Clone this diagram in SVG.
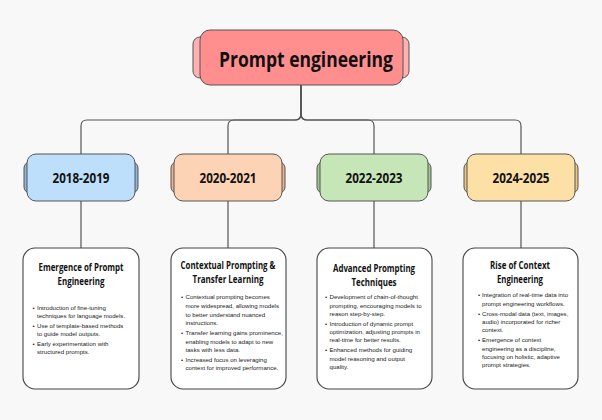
<svg xmlns="http://www.w3.org/2000/svg" width="602" height="420" viewBox="0 0 602 420">
<style>
.bg{fill:#f8f8f8}
.ln{fill:none;stroke:#555;stroke-width:1.2}
.fr{stroke:#555;stroke-width:1}
.card{fill:#fff;stroke:#444;stroke-width:1.1}
.h{font-family:"Open Sans","Liberation Sans",sans-serif;font-weight:700;fill:#111;text-anchor:middle}
.b{font-family:"Liberation Sans",Arial,sans-serif;font-size:6.1px;fill:#222}
</style>
<rect class="bg" x="0" y="0" width="602" height="420"/>
<g id="connectors">
<path class="ln" d="M301 85 V114 Q301 120 295 120 H87 Q81 120 81 126 V154"/>
<path class="ln" d="M301 85 V114 Q301 120 295 120 H234 Q228 120 228 126 V154"/>
<path class="ln" d="M301 85 V114 Q301 120 307 120 H368 Q374 120 374 126 V154"/>
<path class="ln" d="M301 85 V114 Q301 120 307 120 H515 Q521 120 521 126 V154"/>
<path class="ln" d="M81 201 V248 M228 201 V248 M374 201 V248 M521 201 V248"/>
</g>
<g id="title">
<rect class="fr" x="193" y="37" width="216" height="41" rx="7" fill="#ffb0b0"/>
<rect class="fr" x="200" y="30" width="203" height="55" rx="10" fill="#ff8f8f"/>
<text class="h" x="306" y="67" font-size="21" textLength="174" lengthAdjust="spacingAndGlyphs">Prompt engineering</text>
</g>
<g id="y2018">
<rect class="fr" x="24" y="162" width="114" height="31" rx="6" fill="#8fb6dc"/>
<rect class="fr" x="27" y="154" width="108" height="47" rx="9" fill="#bddffc"/>
<text class="h" x="81" y="183" font-size="15" textLength="57" lengthAdjust="spacingAndGlyphs">2018-2019</text>
</g>
<g id="y2020">
<rect class="fr" x="171" y="162" width="114" height="31" rx="6" fill="#eab390"/>
<rect class="fr" x="174" y="154" width="108" height="47" rx="9" fill="#fdd3b6"/>
<text class="h" x="228" y="183" font-size="15" textLength="57" lengthAdjust="spacingAndGlyphs">2020-2021</text>
</g>
<g id="y2022">
<rect class="fr" x="317" y="162" width="114" height="31" rx="6" fill="#9fc890"/>
<rect class="fr" x="320" y="154" width="108" height="47" rx="9" fill="#c6e6b7"/>
<text class="h" x="374" y="183" font-size="15" textLength="57" lengthAdjust="spacingAndGlyphs">2022-2023</text>
</g>
<g id="y2024">
<rect class="fr" x="464" y="162" width="114" height="31" rx="6" fill="#ecc680"/>
<rect class="fr" x="467" y="154" width="108" height="47" rx="9" fill="#fde0a6"/>
<text class="h" x="521" y="183" font-size="15" textLength="57" lengthAdjust="spacingAndGlyphs">2024-2025</text>
</g>
<g id="card1">
<rect class="card" x="23" y="248" width="116" height="141" rx="12"/>
<text class="h" x="81" y="270.5" font-size="11" textLength="85" lengthAdjust="spacingAndGlyphs">Emergence of Prompt</text>
<text class="h" x="81" y="284.5" font-size="11" textLength="47" lengthAdjust="spacingAndGlyphs">Engineering</text>
<text class="b"><tspan x="32.5" y="310">•</tspan><tspan x="37" y="310">Introduction of fine-tuning</tspan><tspan x="37" y="318">techniques for language models.</tspan><tspan x="32.5" y="328">•</tspan><tspan x="37" y="328">Use of template-based methods</tspan><tspan x="37" y="336">to guide model outputs.</tspan><tspan x="32.5" y="346">•</tspan><tspan x="37" y="346">Early experimentation with</tspan><tspan x="37" y="354">structured prompts.</tspan></text>
</g>
<g id="card2">
<rect class="card" x="171" y="248" width="115" height="141" rx="12"/>
<text class="h" x="228" y="269" font-size="11" textLength="95" lengthAdjust="spacingAndGlyphs">Contextual Prompting &amp;</text>
<text class="h" x="228" y="283" font-size="11" textLength="71" lengthAdjust="spacingAndGlyphs">Transfer Learning</text>
<text class="b"><tspan x="181" y="299">•</tspan><tspan x="185.5" y="299">Contextual prompting becomes</tspan><tspan x="185.5" y="308">more widespread, allowing models</tspan><tspan x="185.5" y="316.5">to better understand nuanced</tspan><tspan x="185.5" y="325">instructions.</tspan><tspan x="181" y="335">•</tspan><tspan x="185.5" y="335">Transfer learning gains prominence,</tspan><tspan x="185.5" y="343.5">enabling models to adapt to new</tspan><tspan x="185.5" y="352">tasks with less data.</tspan><tspan x="181" y="361.5">•</tspan><tspan x="185.5" y="361.5">Increased focus on leveraging</tspan><tspan x="185.5" y="370">context for improved performance.</tspan></text>
</g>
<g id="card3">
<rect class="card" x="317" y="248" width="115" height="141" rx="12"/>
<text class="h" x="374" y="272" font-size="11" textLength="82" lengthAdjust="spacingAndGlyphs">Advanced Prompting</text>
<text class="h" x="374" y="286" font-size="11" textLength="45" lengthAdjust="spacingAndGlyphs">Techniques</text>
<text class="b"><tspan x="325" y="299">•</tspan><tspan x="329.5" y="299">Development of chain-of-thought</tspan><tspan x="329.5" y="308">prompting, encouraging models to</tspan><tspan x="329.5" y="316">reason step-by-step.</tspan><tspan x="325" y="325.5">•</tspan><tspan x="329.5" y="325.5">Introduction of dynamic prompt</tspan><tspan x="329.5" y="334">optimization, adjusting prompts in</tspan><tspan x="329.5" y="342">real-time for better results.</tspan><tspan x="325" y="352">•</tspan><tspan x="329.5" y="352">Enhanced methods for guiding</tspan><tspan x="329.5" y="360.5">model reasoning and output</tspan><tspan x="329.5" y="369">quality.</tspan></text>
</g>
<g id="card4">
<rect class="card" x="463" y="248" width="115" height="141" rx="12"/>
<text class="h" x="520" y="269" font-size="11" textLength="60" lengthAdjust="spacingAndGlyphs">Rise of Context</text>
<text class="h" x="520" y="283" font-size="11" textLength="46" lengthAdjust="spacingAndGlyphs">Engineering</text>
<text class="b"><tspan x="478" y="297">•</tspan><tspan x="482" y="297">Integration of real-time data into</tspan><tspan x="482" y="305.5">prompt engineering workflows.</tspan><tspan x="478" y="315.5">•</tspan><tspan x="482" y="315.5">Cross-modal data (text, images,</tspan><tspan x="482" y="324">audio) incorporated for richer</tspan><tspan x="482" y="332">context.</tspan><tspan x="478" y="342">•</tspan><tspan x="482" y="342">Emergence of context</tspan><tspan x="482" y="350.5">engineering as a discipline,</tspan><tspan x="482" y="359">focusing on holistic, adaptive</tspan><tspan x="482" y="367">prompt strategies.</tspan></text>
</g>
</svg>
